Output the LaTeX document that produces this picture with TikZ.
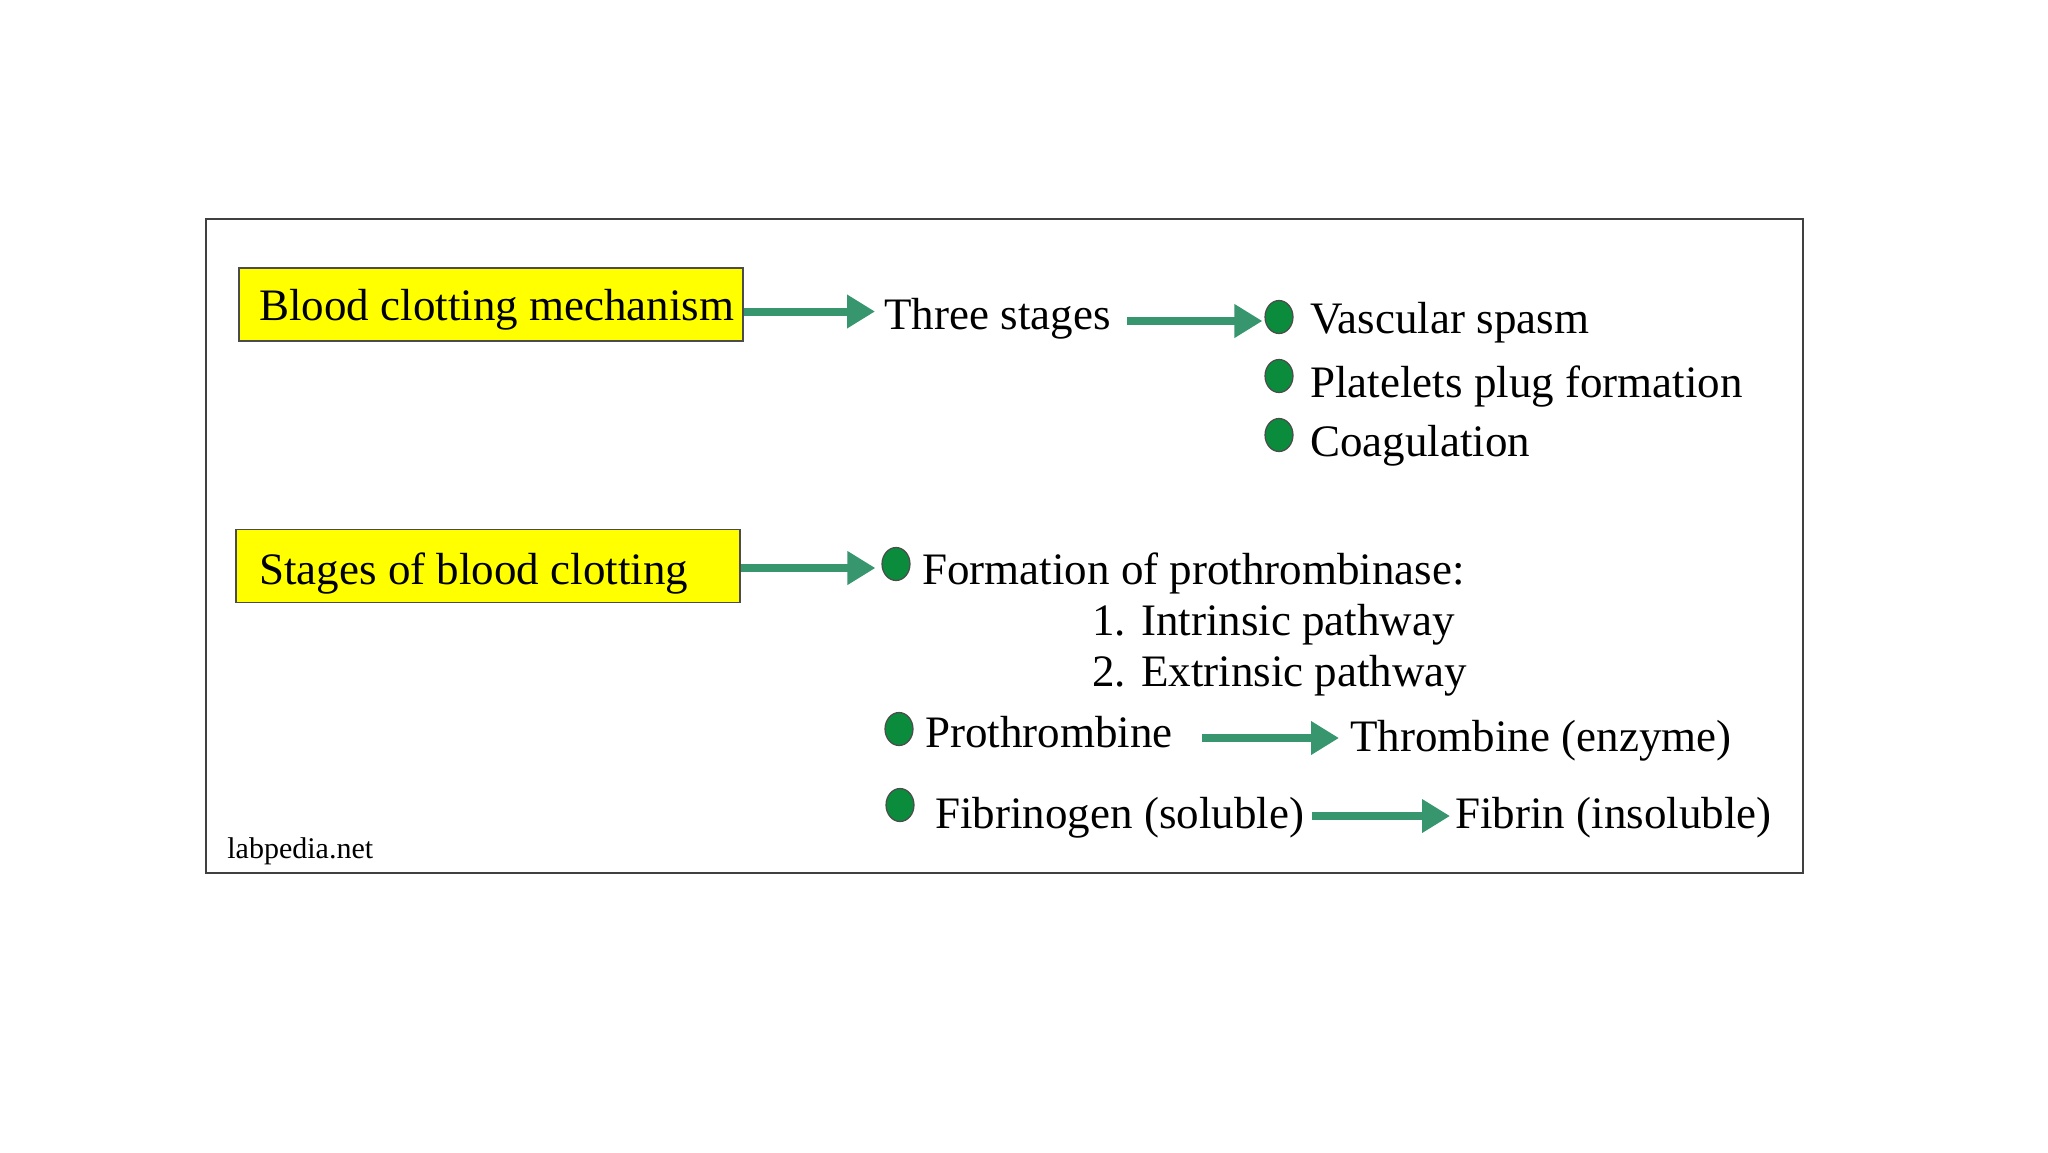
\documentclass[tikz,border=0pt]{standalone}
\usepackage{fontspec}
\setmainfont{Liberation Serif}
\usetikzlibrary{shapes.geometric,arrows.meta}
\definecolor{arrowgreen}{RGB}{55,150,110}
\definecolor{dotgreen}{RGB}{10,140,60}
\definecolor{boxyellow}{RGB}{255,255,0}
\begin{document}
\begin{tikzpicture}[x=0.5pt,y=-0.5pt,
  txt/.style={inner sep=0pt,anchor=base west,font=\fontsize{22.5}{27}\selectfont},
  ybox/.style={draw=black!70,line width=0.8pt,fill=boxyellow,minimum width=252pt,minimum height=36.5pt,inner sep=0pt,font=\fontsize{22.5}{27}\selectfont},
  dot/.style={ellipse,draw=black!70,line width=0.6pt,fill=dotgreen,minimum width=14pt,minimum height=16.5pt,inner sep=0pt},
  garrow/.style={draw=arrowgreen,line width=4pt,-{Triangle[length=14pt,width=16pt]}}
]
\useasboundingbox (0,0) rectangle (2048,1152);
\node[draw=black!75,line width=1pt,minimum width=798.5pt,minimum height=327pt,inner sep=0pt,anchor=north west] (frame) at (205,218) {};
% top row
\node[ybox] (box1) at (491,304.5) {};
\node[txt] (box1t) at (259,320) {Blood clotting mechanism};
\node[txt] (three) at (884,329) {Three stages};
\node[dot] (b1) at (1279,317) {};
\node[dot] (b2) at (1279,376) {};
\node[dot] (b3) at (1279,435) {};
\node[txt] (vs) at (1310,333) {Vascular spasm};
\node[txt] (pp) at (1310,397) {Platelets plug formation};
\node[txt] (co) at (1310,456) {Coagulation};
% second block
\node[ybox] (box2) at (488,566) {};
\node[txt] (box2t) at (259,584) {Stages of blood clotting};
\node[dot] (b4) at (896,564) {};
\node[txt] (form) at (922,584) {Formation of prothrombinase:};
\node[txt] (intr) at (1092,635) {1. Intrinsic pathway};
\node[txt] (extr) at (1092,686) {2. Extrinsic pathway};
\node[dot] (b5) at (899,729) {};
\node[txt] (proth) at (925,747) {Prothrombine};
\node[txt] (thromb) at (1350,751) {Thrombine (enzyme)};
\node[dot] (b6) at (900,805) {};
\node[txt] (fibg) at (935,828) {Fibrinogen (soluble)};
\node[txt] (fib) at (1455,828) {Fibrin (insoluble)};
\node[inner sep=0pt,anchor=base west,font=\fontsize{15}{18}\selectfont] (lab) at (227,858) {labpedia.net};
% arrows
\draw[garrow,shorten >=4.5pt] ([yshift=-3.5pt]box1.east) -- ([yshift=-3.5pt]box1.east -| three.west);
\draw[garrow,shorten <=8pt,shorten >=1pt] ([yshift=-2pt]b1.west -| three.east) -- ([yshift=-2pt]b1.west);
\draw[garrow,shorten >=3pt] ([yshift=-1pt]box2.east) -- ([yshift=-1pt]box2.east -| b4.west);
\draw[garrow,shorten <=14.5pt,shorten >=5.5pt] ([yshift=-4.5pt]b5.east -| proth.east) -- ([yshift=-4.5pt]b5.east -| thromb.west);
\draw[garrow,shorten <=3.5pt,shorten >=2.5pt] ([yshift=-5.5pt]b6.east -| fibg.east) -- ([yshift=-5.5pt]b6.east -| fib.west);
\end{tikzpicture}
\end{document}
